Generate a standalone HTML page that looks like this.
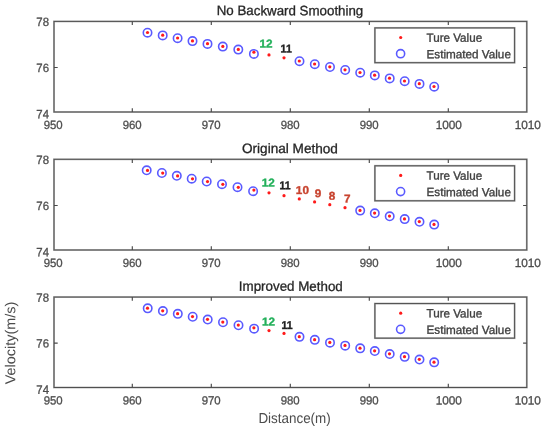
<!DOCTYPE html>
<html lang="en"><head><meta charset="utf-8"><title>Velocity vs Distance</title>
<style>html,body{margin:0;padding:0;background:#fff;}body{width:550px;height:427px;overflow:hidden;}svg{display:block;}</style>
</head><body>
<svg width="550" height="427" viewBox="0 0 550 427" font-family='"Liberation Sans", sans-serif'>
<rect width="550" height="427" fill="#fff"/>
<g>
<rect x="54.00" y="21.40" width="472.80" height="90.60" fill="none" stroke="#000" stroke-opacity="0.30" stroke-width="1.9"/>
<rect x="54.00" y="21.40" width="472.80" height="90.60" fill="none" stroke="#000" stroke-opacity="0.55" stroke-width="1.0"/>
<path d="M132.30 112.00v-3.7M132.30 21.40v3.7M211.30 112.00v-3.7M211.30 21.40v3.7M290.30 112.00v-3.7M290.30 21.40v3.7M369.30 112.00v-3.7M369.30 21.40v3.7M448.30 112.00v-3.7M448.30 21.40v3.7M54.0 67.50h3.7M526.8 67.50h-3.7" stroke="#4a4a4a" stroke-width="1.15" fill="none"/>
<g font-size="12.0" fill="#4c4c4c" stroke="#4c4c4c" stroke-width="0.3">
<text transform="translate(53.20,129.10) rotate(0.1) scale(0.95,1)" text-anchor="middle">950</text>
<text transform="translate(132.20,129.10) rotate(0.1) scale(0.95,1)" text-anchor="middle">960</text>
<text transform="translate(211.20,129.10) rotate(0.1) scale(0.95,1)" text-anchor="middle">970</text>
<text transform="translate(290.20,129.10) rotate(0.1) scale(0.95,1)" text-anchor="middle">980</text>
<text transform="translate(369.20,129.10) rotate(0.1) scale(0.95,1)" text-anchor="middle">990</text>
<text transform="translate(448.80,129.10) rotate(0.1) scale(0.985,1)" text-anchor="middle">1000</text>
<text transform="translate(527.80,129.10) rotate(0.1) scale(0.985,1)" text-anchor="middle">1010</text>
<text transform="translate(49.00,26.00) rotate(0.1) scale(0.95,1)" text-anchor="end">78</text>
<text transform="translate(49.00,71.95) rotate(0.1) scale(0.95,1)" text-anchor="end">76</text>
<text transform="translate(49.00,118.20) rotate(0.1) scale(0.95,1)" text-anchor="end">74</text>
</g>
<text transform="translate(290.00,15.20) rotate(0.1) scale(0.98,1)" text-anchor="middle" font-size="13.6" fill="#262626" stroke="#262626" stroke-width="0.3">No Backward Smoothing</text>
<circle cx="147.5" cy="32.50" r="1.6" fill="#ff1a1a"/>
<circle cx="162.7" cy="35.20" r="1.6" fill="#ff1a1a"/>
<circle cx="177.6" cy="38.00" r="1.6" fill="#ff1a1a"/>
<circle cx="192.5" cy="40.90" r="1.6" fill="#ff1a1a"/>
<circle cx="207.5" cy="43.70" r="1.6" fill="#ff1a1a"/>
<circle cx="222.8" cy="46.40" r="1.6" fill="#ff1a1a"/>
<circle cx="238.3" cy="49.40" r="1.6" fill="#ff1a1a"/>
<circle cx="253.9" cy="52.20" r="1.6" fill="#ff1a1a"/>
<circle cx="269.0" cy="54.90" r="1.6" fill="#ff1a1a"/>
<circle cx="284.0" cy="57.80" r="1.6" fill="#ff1a1a"/>
<circle cx="299.3" cy="61.00" r="1.6" fill="#ff1a1a"/>
<circle cx="314.6" cy="64.00" r="1.6" fill="#ff1a1a"/>
<circle cx="329.8" cy="66.80" r="1.6" fill="#ff1a1a"/>
<circle cx="345.0" cy="69.80" r="1.6" fill="#ff1a1a"/>
<circle cx="360.0" cy="72.50" r="1.6" fill="#ff1a1a"/>
<circle cx="374.6" cy="75.20" r="1.6" fill="#ff1a1a"/>
<circle cx="389.5" cy="78.20" r="1.6" fill="#ff1a1a"/>
<circle cx="404.5" cy="81.00" r="1.6" fill="#ff1a1a"/>
<circle cx="419.3" cy="83.70" r="1.6" fill="#ff1a1a"/>
<circle cx="434.0" cy="86.50" r="1.6" fill="#ff1a1a"/>
<circle cx="147.50" cy="32.70" r="4.2" fill="none" stroke="#5a5aff" stroke-width="1.6"/>
<circle cx="162.70" cy="35.40" r="4.2" fill="none" stroke="#5a5aff" stroke-width="1.6"/>
<circle cx="177.60" cy="38.20" r="4.2" fill="none" stroke="#5a5aff" stroke-width="1.6"/>
<circle cx="192.50" cy="41.10" r="4.2" fill="none" stroke="#5a5aff" stroke-width="1.6"/>
<circle cx="207.50" cy="43.90" r="4.2" fill="none" stroke="#5a5aff" stroke-width="1.6"/>
<circle cx="222.80" cy="46.60" r="4.2" fill="none" stroke="#5a5aff" stroke-width="1.6"/>
<circle cx="238.30" cy="49.60" r="4.2" fill="none" stroke="#5a5aff" stroke-width="1.6"/>
<circle cx="253.90" cy="53.90" r="4.2" fill="none" stroke="#5a5aff" stroke-width="1.6"/>
<circle cx="299.50" cy="61.20" r="4.2" fill="none" stroke="#5a5aff" stroke-width="1.6"/>
<circle cx="314.80" cy="64.20" r="4.2" fill="none" stroke="#5a5aff" stroke-width="1.6"/>
<circle cx="330.00" cy="67.00" r="4.2" fill="none" stroke="#5a5aff" stroke-width="1.6"/>
<circle cx="345.20" cy="70.00" r="4.2" fill="none" stroke="#5a5aff" stroke-width="1.6"/>
<circle cx="360.20" cy="72.70" r="4.2" fill="none" stroke="#5a5aff" stroke-width="1.6"/>
<circle cx="374.80" cy="75.40" r="4.2" fill="none" stroke="#5a5aff" stroke-width="1.6"/>
<circle cx="389.70" cy="78.40" r="4.2" fill="none" stroke="#5a5aff" stroke-width="1.6"/>
<circle cx="404.70" cy="81.20" r="4.2" fill="none" stroke="#5a5aff" stroke-width="1.6"/>
<circle cx="419.50" cy="83.90" r="4.2" fill="none" stroke="#5a5aff" stroke-width="1.6"/>
<circle cx="434.20" cy="86.70" r="4.2" fill="none" stroke="#5a5aff" stroke-width="1.6"/>
<rect x="374.90" y="27.90" width="139.70" height="34.80" fill="#fff" stroke="#000" stroke-opacity="0.30" stroke-width="1.9"/>
<rect x="374.90" y="27.90" width="139.70" height="34.80" fill="none" stroke="#000" stroke-opacity="0.55" stroke-width="1.0"/>
<circle cx="400.7" cy="37.50" r="1.6" fill="#ff1a1a"/>
<circle cx="400.6" cy="53.70" r="4.05" fill="none" stroke="#5a5aff" stroke-width="1.6"/>
<text transform="translate(426.50,41.70) rotate(0.1)" font-size="11.9" lengthAdjust="spacingAndGlyphs" fill="#404040" stroke="#404040" stroke-width="0.35" textLength="55.6">Ture Value</text>
<text transform="translate(426.50,58.20) rotate(0.1)" font-size="11.9" lengthAdjust="spacingAndGlyphs" fill="#404040" stroke="#404040" stroke-width="0.35" textLength="84.4">Estimated Value</text>
</g>
<g>
<rect x="54.00" y="159.30" width="472.80" height="90.70" fill="none" stroke="#000" stroke-opacity="0.30" stroke-width="1.9"/>
<rect x="54.00" y="159.30" width="472.80" height="90.70" fill="none" stroke="#000" stroke-opacity="0.55" stroke-width="1.0"/>
<path d="M132.30 250.00v-3.7M132.30 159.30v3.7M211.30 250.00v-3.7M211.30 159.30v3.7M290.30 250.00v-3.7M290.30 159.30v3.7M369.30 250.00v-3.7M369.30 159.30v3.7M448.30 250.00v-3.7M448.30 159.30v3.7M54.0 205.45h3.7M526.8 205.45h-3.7" stroke="#4a4a4a" stroke-width="1.15" fill="none"/>
<g font-size="12.0" fill="#4c4c4c" stroke="#4c4c4c" stroke-width="0.3">
<text transform="translate(53.20,267.10) rotate(0.1) scale(0.95,1)" text-anchor="middle">950</text>
<text transform="translate(132.20,267.10) rotate(0.1) scale(0.95,1)" text-anchor="middle">960</text>
<text transform="translate(211.20,267.10) rotate(0.1) scale(0.95,1)" text-anchor="middle">970</text>
<text transform="translate(290.20,267.10) rotate(0.1) scale(0.95,1)" text-anchor="middle">980</text>
<text transform="translate(369.20,267.10) rotate(0.1) scale(0.95,1)" text-anchor="middle">990</text>
<text transform="translate(448.80,267.10) rotate(0.1) scale(0.985,1)" text-anchor="middle">1000</text>
<text transform="translate(527.80,267.10) rotate(0.1) scale(0.985,1)" text-anchor="middle">1010</text>
<text transform="translate(49.00,163.90) rotate(0.1) scale(0.95,1)" text-anchor="end">78</text>
<text transform="translate(49.00,209.90) rotate(0.1) scale(0.95,1)" text-anchor="end">76</text>
<text transform="translate(49.00,256.20) rotate(0.1) scale(0.95,1)" text-anchor="end">74</text>
</g>
<text transform="translate(289.95,153.10) rotate(0.1)" text-anchor="middle" font-size="13.6" fill="#262626" stroke="#262626" stroke-width="0.3">Original Method</text>
<circle cx="147.5" cy="170.40" r="1.6" fill="#ff1a1a"/>
<circle cx="162.7" cy="173.10" r="1.6" fill="#ff1a1a"/>
<circle cx="177.6" cy="175.90" r="1.6" fill="#ff1a1a"/>
<circle cx="192.5" cy="178.80" r="1.6" fill="#ff1a1a"/>
<circle cx="207.5" cy="181.60" r="1.6" fill="#ff1a1a"/>
<circle cx="222.8" cy="184.30" r="1.6" fill="#ff1a1a"/>
<circle cx="238.3" cy="187.30" r="1.6" fill="#ff1a1a"/>
<circle cx="253.9" cy="190.10" r="1.6" fill="#ff1a1a"/>
<circle cx="269.0" cy="192.80" r="1.6" fill="#ff1a1a"/>
<circle cx="284.0" cy="195.70" r="1.6" fill="#ff1a1a"/>
<circle cx="299.3" cy="198.90" r="1.6" fill="#ff1a1a"/>
<circle cx="314.6" cy="201.90" r="1.6" fill="#ff1a1a"/>
<circle cx="329.8" cy="204.70" r="1.6" fill="#ff1a1a"/>
<circle cx="345.0" cy="207.70" r="1.6" fill="#ff1a1a"/>
<circle cx="360.0" cy="210.40" r="1.6" fill="#ff1a1a"/>
<circle cx="374.6" cy="213.10" r="1.6" fill="#ff1a1a"/>
<circle cx="389.5" cy="216.10" r="1.6" fill="#ff1a1a"/>
<circle cx="404.5" cy="218.90" r="1.6" fill="#ff1a1a"/>
<circle cx="419.3" cy="221.60" r="1.6" fill="#ff1a1a"/>
<circle cx="434.0" cy="224.40" r="1.6" fill="#ff1a1a"/>
<circle cx="146.70" cy="170.30" r="4.2" fill="none" stroke="#5a5aff" stroke-width="1.6"/>
<circle cx="161.90" cy="173.00" r="4.2" fill="none" stroke="#5a5aff" stroke-width="1.6"/>
<circle cx="176.80" cy="175.80" r="4.2" fill="none" stroke="#5a5aff" stroke-width="1.6"/>
<circle cx="191.70" cy="178.70" r="4.2" fill="none" stroke="#5a5aff" stroke-width="1.6"/>
<circle cx="206.70" cy="181.50" r="4.2" fill="none" stroke="#5a5aff" stroke-width="1.6"/>
<circle cx="222.00" cy="184.20" r="4.2" fill="none" stroke="#5a5aff" stroke-width="1.6"/>
<circle cx="237.50" cy="187.20" r="4.2" fill="none" stroke="#5a5aff" stroke-width="1.6"/>
<circle cx="253.10" cy="191.20" r="4.2" fill="none" stroke="#5a5aff" stroke-width="1.6"/>
<circle cx="360.20" cy="210.60" r="4.2" fill="none" stroke="#5a5aff" stroke-width="1.6"/>
<circle cx="374.80" cy="213.30" r="4.2" fill="none" stroke="#5a5aff" stroke-width="1.6"/>
<circle cx="389.70" cy="216.30" r="4.2" fill="none" stroke="#5a5aff" stroke-width="1.6"/>
<circle cx="404.70" cy="219.10" r="4.2" fill="none" stroke="#5a5aff" stroke-width="1.6"/>
<circle cx="419.50" cy="221.80" r="4.2" fill="none" stroke="#5a5aff" stroke-width="1.6"/>
<circle cx="434.20" cy="224.60" r="4.2" fill="none" stroke="#5a5aff" stroke-width="1.6"/>
<rect x="374.90" y="165.80" width="139.70" height="35.00" fill="#fff" stroke="#000" stroke-opacity="0.30" stroke-width="1.9"/>
<rect x="374.90" y="165.80" width="139.70" height="35.00" fill="none" stroke="#000" stroke-opacity="0.55" stroke-width="1.0"/>
<circle cx="400.7" cy="175.40" r="1.6" fill="#ff1a1a"/>
<circle cx="400.6" cy="191.60" r="4.05" fill="none" stroke="#5a5aff" stroke-width="1.6"/>
<text transform="translate(426.50,179.60) rotate(0.1)" font-size="11.9" lengthAdjust="spacingAndGlyphs" fill="#404040" stroke="#404040" stroke-width="0.35" textLength="55.6">Ture Value</text>
<text transform="translate(426.50,196.10) rotate(0.1)" font-size="11.9" lengthAdjust="spacingAndGlyphs" fill="#404040" stroke="#404040" stroke-width="0.35" textLength="84.4">Estimated Value</text>
</g>
<g>
<rect x="54.00" y="297.05" width="472.80" height="90.45" fill="none" stroke="#000" stroke-opacity="0.30" stroke-width="1.9"/>
<rect x="54.00" y="297.05" width="472.80" height="90.45" fill="none" stroke="#000" stroke-opacity="0.55" stroke-width="1.0"/>
<path d="M132.30 387.50v-3.7M132.30 297.05v3.7M211.30 387.50v-3.7M211.30 297.05v3.7M290.30 387.50v-3.7M290.30 297.05v3.7M369.30 387.50v-3.7M369.30 297.05v3.7M448.30 387.50v-3.7M448.30 297.05v3.7M54.0 343.08h3.7M526.8 343.08h-3.7" stroke="#4a4a4a" stroke-width="1.15" fill="none"/>
<g font-size="12.0" fill="#4c4c4c" stroke="#4c4c4c" stroke-width="0.3">
<text transform="translate(53.20,404.60) rotate(0.1) scale(0.95,1)" text-anchor="middle">950</text>
<text transform="translate(132.20,404.60) rotate(0.1) scale(0.95,1)" text-anchor="middle">960</text>
<text transform="translate(211.20,404.60) rotate(0.1) scale(0.95,1)" text-anchor="middle">970</text>
<text transform="translate(290.20,404.60) rotate(0.1) scale(0.95,1)" text-anchor="middle">980</text>
<text transform="translate(369.20,404.60) rotate(0.1) scale(0.95,1)" text-anchor="middle">990</text>
<text transform="translate(448.80,404.60) rotate(0.1) scale(0.985,1)" text-anchor="middle">1000</text>
<text transform="translate(527.80,404.60) rotate(0.1) scale(0.985,1)" text-anchor="middle">1010</text>
<text transform="translate(49.00,301.65) rotate(0.1) scale(0.95,1)" text-anchor="end">78</text>
<text transform="translate(49.00,347.53) rotate(0.1) scale(0.95,1)" text-anchor="end">76</text>
<text transform="translate(49.00,393.70) rotate(0.1) scale(0.95,1)" text-anchor="end">74</text>
</g>
<text transform="translate(290.80,290.85) rotate(0.1) scale(0.982,1)" text-anchor="middle" font-size="13.6" fill="#262626" stroke="#262626" stroke-width="0.3">Improved Method</text>
<circle cx="147.5" cy="308.15" r="1.6" fill="#ff1a1a"/>
<circle cx="162.7" cy="310.85" r="1.6" fill="#ff1a1a"/>
<circle cx="177.6" cy="313.65" r="1.6" fill="#ff1a1a"/>
<circle cx="192.5" cy="316.55" r="1.6" fill="#ff1a1a"/>
<circle cx="207.5" cy="319.35" r="1.6" fill="#ff1a1a"/>
<circle cx="222.8" cy="322.05" r="1.6" fill="#ff1a1a"/>
<circle cx="238.3" cy="325.05" r="1.6" fill="#ff1a1a"/>
<circle cx="253.9" cy="327.85" r="1.6" fill="#ff1a1a"/>
<circle cx="269.0" cy="330.55" r="1.6" fill="#ff1a1a"/>
<circle cx="284.0" cy="333.45" r="1.6" fill="#ff1a1a"/>
<circle cx="299.3" cy="336.65" r="1.6" fill="#ff1a1a"/>
<circle cx="314.6" cy="339.65" r="1.6" fill="#ff1a1a"/>
<circle cx="329.8" cy="342.45" r="1.6" fill="#ff1a1a"/>
<circle cx="345.0" cy="345.45" r="1.6" fill="#ff1a1a"/>
<circle cx="360.0" cy="348.15" r="1.6" fill="#ff1a1a"/>
<circle cx="374.6" cy="350.85" r="1.6" fill="#ff1a1a"/>
<circle cx="389.5" cy="353.85" r="1.6" fill="#ff1a1a"/>
<circle cx="404.5" cy="356.65" r="1.6" fill="#ff1a1a"/>
<circle cx="419.3" cy="359.35" r="1.6" fill="#ff1a1a"/>
<circle cx="434.0" cy="362.15" r="1.6" fill="#ff1a1a"/>
<circle cx="147.70" cy="308.35" r="4.2" fill="none" stroke="#5a5aff" stroke-width="1.6"/>
<circle cx="162.90" cy="311.05" r="4.2" fill="none" stroke="#5a5aff" stroke-width="1.6"/>
<circle cx="177.80" cy="313.85" r="4.2" fill="none" stroke="#5a5aff" stroke-width="1.6"/>
<circle cx="192.70" cy="316.75" r="4.2" fill="none" stroke="#5a5aff" stroke-width="1.6"/>
<circle cx="207.70" cy="319.55" r="4.2" fill="none" stroke="#5a5aff" stroke-width="1.6"/>
<circle cx="223.00" cy="322.25" r="4.2" fill="none" stroke="#5a5aff" stroke-width="1.6"/>
<circle cx="238.50" cy="325.25" r="4.2" fill="none" stroke="#5a5aff" stroke-width="1.6"/>
<circle cx="254.10" cy="328.65" r="4.2" fill="none" stroke="#5a5aff" stroke-width="1.6"/>
<circle cx="299.50" cy="336.85" r="4.2" fill="none" stroke="#5a5aff" stroke-width="1.6"/>
<circle cx="314.80" cy="339.85" r="4.2" fill="none" stroke="#5a5aff" stroke-width="1.6"/>
<circle cx="330.00" cy="342.65" r="4.2" fill="none" stroke="#5a5aff" stroke-width="1.6"/>
<circle cx="345.20" cy="345.65" r="4.2" fill="none" stroke="#5a5aff" stroke-width="1.6"/>
<circle cx="360.20" cy="348.35" r="4.2" fill="none" stroke="#5a5aff" stroke-width="1.6"/>
<circle cx="374.80" cy="351.05" r="4.2" fill="none" stroke="#5a5aff" stroke-width="1.6"/>
<circle cx="389.70" cy="354.05" r="4.2" fill="none" stroke="#5a5aff" stroke-width="1.6"/>
<circle cx="404.70" cy="356.85" r="4.2" fill="none" stroke="#5a5aff" stroke-width="1.6"/>
<circle cx="419.50" cy="359.55" r="4.2" fill="none" stroke="#5a5aff" stroke-width="1.6"/>
<circle cx="434.20" cy="362.35" r="4.2" fill="none" stroke="#5a5aff" stroke-width="1.6"/>
<rect x="374.90" y="303.55" width="139.70" height="34.60" fill="#fff" stroke="#000" stroke-opacity="0.30" stroke-width="1.9"/>
<rect x="374.90" y="303.55" width="139.70" height="34.60" fill="none" stroke="#000" stroke-opacity="0.55" stroke-width="1.0"/>
<circle cx="400.7" cy="313.15" r="1.6" fill="#ff1a1a"/>
<circle cx="400.6" cy="329.35" r="4.05" fill="none" stroke="#5a5aff" stroke-width="1.6"/>
<text transform="translate(426.50,317.35) rotate(0.1)" font-size="11.9" lengthAdjust="spacingAndGlyphs" fill="#404040" stroke="#404040" stroke-width="0.35" textLength="55.6">Ture Value</text>
<text transform="translate(426.50,333.85) rotate(0.1)" font-size="11.9" lengthAdjust="spacingAndGlyphs" fill="#404040" stroke="#404040" stroke-width="0.35" textLength="84.4">Estimated Value</text>
</g>
<g font-size="11.4" font-weight="bold">
<text transform="translate(266.10,47.40) rotate(0.1) scale(1.03,1)" text-anchor="middle" fill="#22b05a" stroke="#22b05a" stroke-width="0.45" stroke-opacity="0.8">12</text>
<text transform="translate(286.20,52.50) rotate(0.1) scale(0.93,1)" text-anchor="middle" fill="#222222" stroke="#222222" stroke-width="0.45" stroke-opacity="0.8">11</text>
<text transform="translate(268.20,186.50) rotate(0.1) scale(1.03,1)" text-anchor="middle" fill="#22b05a" stroke="#22b05a" stroke-width="0.45" stroke-opacity="0.8">12</text>
<text transform="translate(285.10,189.30) rotate(0.1) scale(0.93,1)" text-anchor="middle" fill="#222222" stroke="#222222" stroke-width="0.45" stroke-opacity="0.8">11</text>
<text transform="translate(302.40,193.95) rotate(0.1) scale(1.03,1)" text-anchor="middle" fill="#c8442f" stroke="#c8442f" stroke-width="0.45" stroke-opacity="0.8">10</text>
<text transform="translate(318.00,197.20) rotate(0.1) scale(1.03,1)" text-anchor="middle" fill="#c8442f" stroke="#c8442f" stroke-width="0.45" stroke-opacity="0.8">9</text>
<text transform="translate(332.10,199.80) rotate(0.1) scale(1.03,1)" text-anchor="middle" fill="#c8442f" stroke="#c8442f" stroke-width="0.45" stroke-opacity="0.8">8</text>
<text transform="translate(347.30,202.40) rotate(0.1) scale(1.03,1)" text-anchor="middle" fill="#c8442f" stroke="#c8442f" stroke-width="0.45" stroke-opacity="0.8">7</text>
<text transform="translate(268.50,325.40) rotate(0.1) scale(1.03,1)" text-anchor="middle" fill="#22b05a" stroke="#22b05a" stroke-width="0.45" stroke-opacity="0.8">12</text>
<text transform="translate(287.00,329.00) rotate(0.1) scale(0.93,1)" text-anchor="middle" fill="#222222" stroke="#222222" stroke-width="0.45" stroke-opacity="0.8">11</text>
</g>
<text transform="translate(258.40,422.90) rotate(0.1)" font-size="14.4" textLength="72.3" lengthAdjust="spacingAndGlyphs" fill="#4c4c4c">Distance(m)</text>
<text transform="translate(15.20,384.20) rotate(-89.9)" font-size="14.4" textLength="82.4" lengthAdjust="spacingAndGlyphs" fill="#4c4c4c">Velocity(m/s)</text>
</svg>
</body></html>
